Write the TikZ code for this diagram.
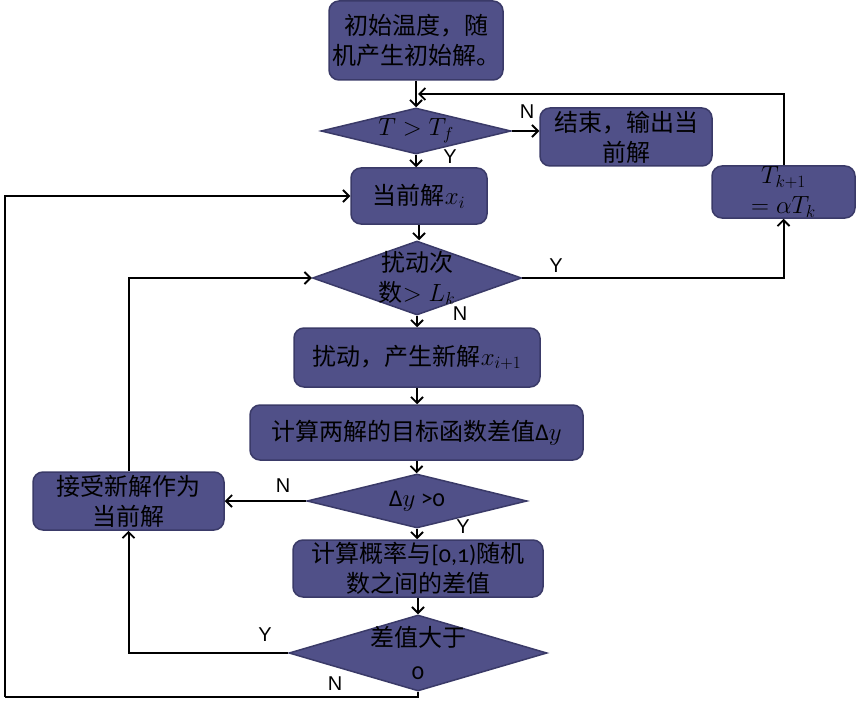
\documentclass[tikz,border=0pt]{standalone}
\usepackage{fontspec}
\usetikzlibrary{shapes.geometric,arrows.meta}
\newfontfamily\cjk{Noto Sans CJK SC}
\newfontfamily\lat{Carlito}[Numbers=OldStyle]
\newfontfamily\ynfont{Liberation Sans}
\definecolor{boxfill}{RGB}{80,80,136}
\definecolor{boxline}{RGB}{58,58,104}
\begin{document}
\begin{tikzpicture}[x=1pt,y=-1pt,
  every node/.style={font=\cjk\fontsize{24}{30}\selectfont, text=black},
  box/.style={draw=boxline, fill=boxfill, line width=1.5pt, rounded corners=10pt, align=center, inner sep=0pt},
  dia/.style={draw=boxline, fill=boxfill, line width=1.5pt, diamond, inner sep=0pt},
  conn/.style={line width=2pt, -{Straight Barb[length=6pt,width=12pt,line width=1.8pt]}},
  yn/.style={font=\ynfont\fontsize{20}{20}\selectfont, inner sep=0pt}]
\useasboundingbox (0,0) rectangle (857,706);
% boxes
\node[box, minimum width=174pt, minimum height=79pt] (s) at (416,40.5) {初始温度，随\\机产生初始解。};
\node[dia, minimum width=190pt, minimum height=46pt, label={center:$T>T_f$}] (d1) at (416,131) {};
\node[box, minimum width=172pt, minimum height=58pt] (end) at (626,137) {结束，输出当\\前解};
\node[box, minimum width=136pt, minimum height=56pt] (cur) at (419,196) {当前解$x_i$};
\node[box, minimum width=143pt, minimum height=52pt] (tk) at (783.5,192) {$T_{k+1}$\\$=\alpha T_k$};
\node[dia, minimum width=209pt, minimum height=74pt, label={[align=center]center:扰动次\\数$>L_k$}] (d2) at (417,278) {};
\node[box, minimum width=246pt, minimum height=59pt] (pert) at (417,357.5) {扰动，产生新解$x_{i+1}$};
\node[box, minimum width=333pt, minimum height=55pt] (calc) at (416.5,432.5) {计算两解的目标函数差值{\lat Δ}$y$};
\node[dia, minimum width=220pt, minimum height=54pt, label={center:{\lat Δ}$y$ {\lat >0}}] (d3) at (417,501) {};
\node[box, minimum width=191pt, minimum height=58pt] (acc) at (128.5,501) {接受新解作为\\当前解};
\node[box, minimum width=250pt, minimum height=57pt] (prob) at (418,568.5) {计算概率与{\lat [0,1)}随机\\数之间的差值};
\node[dia, minimum width=258pt, minimum height=76pt, label={[align=center, font=\cjk\fontsize{24}{33}\selectfont]center:差值大于\\{\lat 0}}] (d4) at (418,653) {};
% coordinates
\coordinate (fb) at (418,94);
\coordinate (lb) at (5,697);
% connectors
\draw[conn] (s.south) -- (s.south |- d1.north);
\draw[conn] (d1.south) -- (d1.south |- cur.north);
\draw[conn] (d1.east) -- (d1.east -| end.west);
\draw[conn] (cur.south) -- (cur.south |- d2.north);
\draw[conn] (d2.east) -| (tk.south);
\draw[conn] (tk.north) |- (fb);
\draw[conn] (d2.south) -- (d2.south |- pert.north);
\draw[conn] (pert.south) -- (pert.south |- calc.north);
\draw[conn] (calc.south) -- (calc.south |- d3.north);
\draw[conn] (d3.west) -- (acc.east);
\draw[conn] (d3.south) -- (d3.south |- prob.north);
\draw[conn] (prob.south) -- (prob.south |- d4.north);
\draw[conn] (d4.west) -| (acc.south);
\draw[conn] (acc.north) |- (d2.west);
\draw[line width=2pt] (d4.south) |- (lb);
\draw[conn] (lb) |- (cur.west);
% labels
\node[yn] (y1) at (450,157) {Y};
\node[yn] (n1) at (527,112) {N};
\node[yn] (y2) at (556,266) {Y};
\node[yn] (n2) at (460,314) {N};
\node[yn] (n3) at (283,486) {N};
\node[yn] (y3) at (463,527) {Y};
\node[yn] (y4) at (265,635) {Y};
\node[yn] (n4) at (335,684) {N};
\end{tikzpicture}
\end{document}
